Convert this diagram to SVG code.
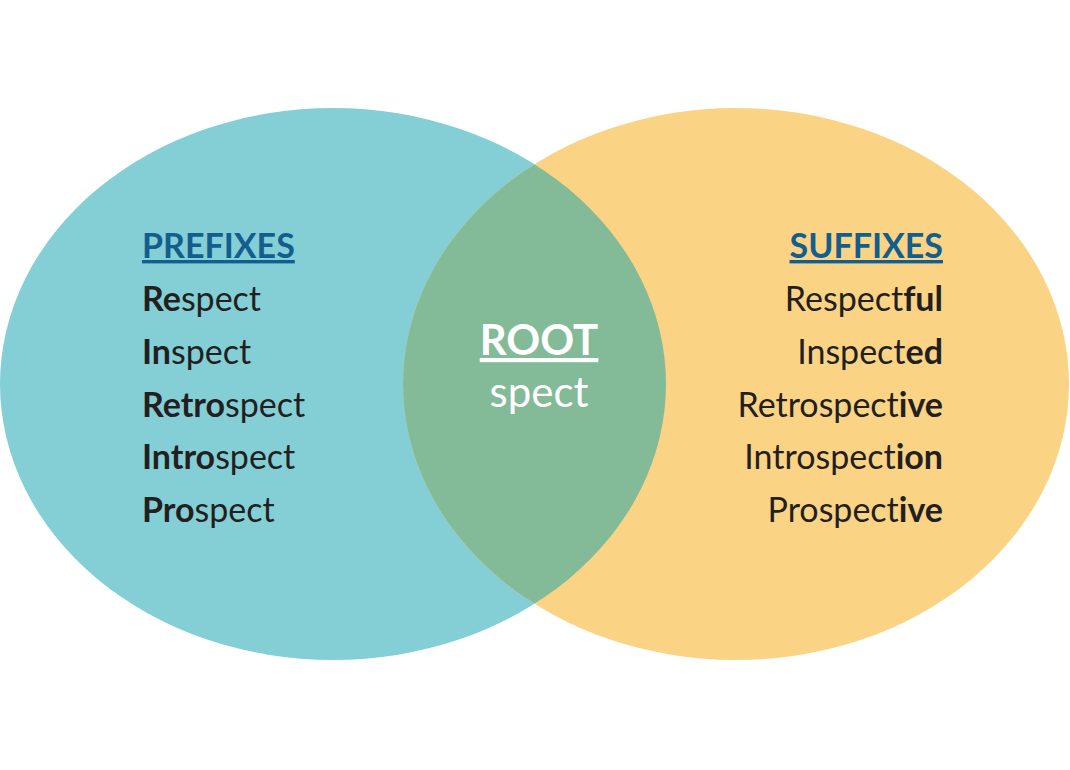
<svg xmlns="http://www.w3.org/2000/svg" width="1070" height="770" viewBox="0 0 1070 770">
<style>
text{font-family:"Lato","Open Sans","Liberation Sans",sans-serif;font-size:34px;fill:#231f20}
.h{font-weight:bold;fill:#135e8c;text-decoration:underline}
.r{fill:#fff;font-size:42px}
b,.b{font-weight:bold}
</style>
<defs><clipPath id="cl"><ellipse cx="333" cy="384" rx="333" ry="276"/></clipPath></defs>
<g id="left"><ellipse cx="333" cy="384" rx="333" ry="276" fill="#84cfd6"/></g>
<g id="right"><ellipse cx="736" cy="384" rx="333" ry="276" fill="#fbd385"/></g>
<g id="overlap"><ellipse cx="736" cy="384" rx="333" ry="276" fill="#83ba98" clip-path="url(#cl)"/></g>
<g id="prefixes">
<text x="142" y="258" class="h">PREFIXES</text>
<text x="142" y="311"><tspan class="b">Re</tspan>spect</text>
<text x="142" y="364"><tspan class="b">In</tspan>spect</text>
<text x="142" y="417"><tspan class="b">Retro</tspan>spect</text>
<text x="142" y="469"><tspan class="b">Intro</tspan>spect</text>
<text x="142" y="522"><tspan class="b">Pro</tspan>spect</text>
</g>
<g id="root">
<text x="539" y="355" text-anchor="middle" class="r b" style="text-decoration:underline">ROOT</text>
<text x="539" y="407" text-anchor="middle" class="r">spect</text>
</g>
<g id="suffixes">
<text x="943" y="258" text-anchor="end" class="h">SUFFIXES</text>
<text x="943" y="311" text-anchor="end">Respect<tspan class="b">ful</tspan></text>
<text x="943" y="364" text-anchor="end">Inspect<tspan class="b">ed</tspan></text>
<text x="943" y="417" text-anchor="end">Retrospect<tspan class="b">ive</tspan></text>
<text x="943" y="469" text-anchor="end">Introspect<tspan class="b">ion</tspan></text>
<text x="943" y="522" text-anchor="end">Prospect<tspan class="b">ive</tspan></text>
</g>
</svg>
